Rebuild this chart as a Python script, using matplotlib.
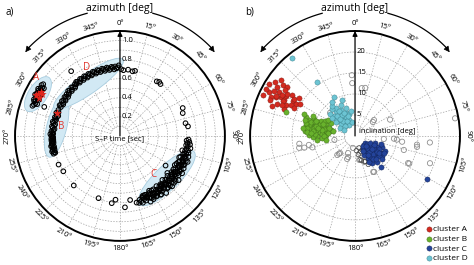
import numpy as np
import matplotlib.pyplot as plt
from matplotlib.patches import Ellipse
from matplotlib import transforms

plt.rcParams['font.family'] = ['Open Sans', 'DejaVu Sans']

# ---------------- panel a: azimuth [deg] vs S-P time [sec] ----------------
a_clusA_az = [304, 303, 302, 301, 300, 299, 298, 297, 296, 295, 294, 293, 292, 291, 290, 289, 298, 300, 296, 294,
              302, 299, 297, 295, 293, 291]
a_clusA_sp = [0.97, 0.98, 0.96, 0.97, 0.95, 0.96, 0.97, 0.95, 0.96, 0.97, 0.95, 0.96, 0.97, 0.95, 0.96, 0.97, 0.93, 0.99, 0.99, 0.93,
              0.94, 0.98, 0.98, 0.94, 0.98, 0.93]

a_clusB_az = [255, 256, 257, 258, 259, 260, 261, 262, 263, 264, 265, 266, 267, 268, 269, 270, 271, 272, 273,
              275, 277, 279, 281, 283, 285, 287, 289, 291, 293,
              255.5, 257.5, 259.5, 261.5, 263.5, 265.5, 267.5, 269.5, 271.5, 274, 276, 278, 280, 282, 284, 286, 288, 290]
a_clusB_sp = [0.72, 0.71, 0.73, 0.70, 0.72, 0.71, 0.70, 0.72, 0.71, 0.70, 0.71, 0.72, 0.70, 0.71, 0.70, 0.72, 0.71, 0.70, 0.71,
              0.70, 0.71, 0.70, 0.71, 0.70, 0.70, 0.69, 0.70, 0.69, 0.70,
              0.70, 0.72, 0.70, 0.73, 0.72, 0.70, 0.72, 0.71, 0.73, 0.72, 0.69, 0.72, 0.69, 0.72, 0.69, 0.71, 0.68, 0.71]

a_clusD_az = [296, 298, 300, 302, 304, 306, 308, 310, 312, 314, 316, 318, 320, 322, 324, 326, 328, 330, 332, 334,
              336, 338, 340, 342, 344, 346, 348, 350, 352, 354, 356, 358, 359, 3, 7, 11, 13,
              297, 299, 301, 303, 305, 307, 309, 311, 313, 315, 317, 319, 321, 323, 325, 327, 329, 331, 333, 335,
              337, 339, 341, 343, 345, 347, 349, 351, 353, 355, 357, 1]
a_clusD_sp = [0.69, 0.70, 0.69, 0.70, 0.69, 0.70, 0.71, 0.70, 0.71, 0.70, 0.71, 0.70, 0.71, 0.72, 0.71, 0.72, 0.71, 0.72, 0.71, 0.72,
              0.71, 0.72, 0.71, 0.72, 0.71, 0.72, 0.71, 0.72, 0.71, 0.72, 0.73, 0.72, 0.74, 0.69, 0.70, 0.69, 0.70,
              0.71, 0.68, 0.71, 0.68, 0.71, 0.68, 0.69, 0.72, 0.69, 0.72, 0.69, 0.72, 0.73, 0.70, 0.73, 0.70, 0.73, 0.70, 0.73, 0.70,
              0.73, 0.70, 0.73, 0.70, 0.73, 0.70, 0.73, 0.70, 0.73, 0.70, 0.71, 0.70]

a_clusC_az = [93, 94, 95, 96, 97, 98, 99, 100, 101, 102, 103, 104, 105, 106, 107, 108, 109, 110, 111, 112,
              113, 114, 115, 116, 117, 118, 119, 120, 121, 122, 123, 124, 125, 126, 127, 128, 129, 130, 131, 132,
              133, 134, 135, 136, 137, 138, 139, 140, 141, 142, 143, 144, 145, 146, 147, 148, 149, 150, 151, 152,
              153, 154, 155, 156, 157, 158, 159, 160, 161, 162, 163, 164, 166,
              110, 114, 118, 122, 126, 130, 134, 138, 142, 146, 150, 154, 158, 103, 107, 128, 136, 144, 152, 140,
              112, 116, 120, 124, 128, 132, 136, 140, 144, 148, 152, 156, 160, 111, 115, 119, 123, 127, 131, 135,
              139, 143, 147, 151, 155, 159, 105, 109, 113, 117, 121, 125, 129, 133, 137, 141, 145, 149, 153, 157]
a_clusC_sp = [0.72, 0.70, 0.73, 0.71, 0.74, 0.70, 0.72, 0.75, 0.71, 0.73, 0.70, 0.74, 0.72, 0.69, 0.75, 0.71, 0.73, 0.70, 0.76, 0.72,
              0.68, 0.74, 0.71, 0.66, 0.75, 0.70, 0.73, 0.67, 0.76, 0.71, 0.69, 0.74, 0.66, 0.72, 0.77, 0.69, 0.73, 0.65, 0.75, 0.70,
              0.67, 0.76, 0.72, 0.64, 0.74, 0.69, 0.71, 0.66, 0.77, 0.70, 0.73, 0.65, 0.75, 0.68, 0.72, 0.66, 0.74, 0.69, 0.71, 0.65,
              0.73, 0.68, 0.76, 0.70, 0.67, 0.73, 0.71, 0.69, 0.74, 0.72, 0.70, 0.73, 0.72,
              0.66, 0.67, 0.65, 0.66, 0.68, 0.70, 0.66, 0.74, 0.67, 0.71, 0.66, 0.72, 0.68, 0.67, 0.72, 0.63, 0.68, 0.70, 0.75, 0.72,
              0.71, 0.69, 0.72, 0.68, 0.71, 0.73, 0.70, 0.68, 0.71, 0.74, 0.69, 0.71, 0.68, 0.74, 0.73, 0.69, 0.72, 0.67, 0.68, 0.74,
              0.67, 0.69, 0.70, 0.73, 0.69, 0.67, 0.70, 0.67, 0.71, 0.69, 0.73, 0.70, 0.75, 0.69, 0.70, 0.68, 0.75, 0.71, 0.67, 0.70]

a_other_az = [34, 36, 38, 66, 70, 79, 82, 245, 238, 223, 199, 187, 184, 176, 171, 291, 323, 123]
a_other_sp = [0.69, 0.70, 0.69, 0.72, 0.70, 0.70, 0.72, 0.71, 0.70, 0.71, 0.69, 0.71, 0.67, 0.75, 0.68, 0.85, 0.85, 0.57]

a_star_az = [297, 295, 299, 296, 298, 290]
a_star_sp = [0.96, 0.94, 0.95, 0.98, 0.93, 0.70]

# cluster outlines: label, centre azimuth, centre S-P time, label azimuth, label S-P time
a_labels = ['A', 'B', 'C', 'D']
a_ell_az = [297, 278, 132, 329]
a_ell_sp = [0.965, 0.67, 0.66, 0.64]
a_lab_az = [305, 279, 139, 334]
a_lab_sp = [1.07, 0.62, 0.54, 0.80]

# ---------------- panel b: azimuth [deg] vs inclination [deg] ----------------
b_A_az = [298, 296, 300, 302, 294, 297, 305, 299, 292, 301, 303, 295, 298, 306, 293, 300, 297, 290, 304, 296,
          302, 299, 294, 291, 300, 307, 298, 296, 303, 295, 301, 304, 297, 293, 299]
b_A_inc = [20, 21, 19, 22, 18, 23, 21, 17, 20, 24, 18, 22, 16, 20, 22, 21, 19, 21, 23, 17,
           19, 22, 24, 18, 15, 22, 24, 19, 20, 16, 17, 16, 21, 19, 20]

b_B_az = [283, 280, 286, 275, 290, 284, 278, 288, 270, 282, 292, 276, 286, 279, 294, 272, 281, 289, 285, 277,
          291, 268, 287, 274, 283, 280, 296, 284, 271, 288, 278, 293, 266, 282, 285, 276, 290, 273, 287, 281,
          298, 264, 279, 295, 283, 269, 286, 275, 289, 277, 262, 300, 284, 280, 291, 274, 288, 282, 289, 293]
b_B_inc = [8.5, 9, 8, 10, 9.5, 11, 7, 6.5, 9, 12, 7.5, 12, 10, 10.5, 9, 7, 6, 11.5, 7, 8.5,
           12.5, 10, 9, 8, 10, 11.5, 8, 6, 11, 8, 9.5, 10.5, 8, 7.5, 12, 6.5, 8, 9.5, 11, 10,
           6.5, 9, 12.5, 11, 5.5, 7.5, 6.5, 11.5, 10, 10, 7, 7.5, 9.5, 8, 10, 10.5, 12.5, 9, 17.5, 13.3]

b_C_az = [133, 128, 138, 120, 145, 125, 140, 130, 115, 150, 135, 122, 142, 127, 110, 148, 132, 118, 137, 124,
          155, 130, 112, 144, 126, 140, 119, 134, 146, 108, 129, 136, 116, 152, 123, 139, 131, 121, 143, 114,
          147, 127, 135, 117, 141, 125, 153, 132, 120, 138, 128, 140, 121]
b_C_inc = [5, 6, 4.5, 5.5, 5, 4, 6.5, 7, 6, 6, 3, 7.5, 4, 8, 5, 7.5, 6, 4, 7, 5.5,
           5, 4.5, 7, 6, 3, 8, 6.5, 5.5, 3.5, 6.5, 7.5, 6, 8, 7, 3.5, 5, 8.5, 4.5, 7, 4,
           5.5, 6.5, 4, 5, 3, 7, 4, 3.5, 8, 7.5, 5, 9.6, 20]

b_D_az = [324, 320, 328, 316, 330, 322, 335, 318, 326, 312, 340, 332, 310, 325, 338, 320, 345, 314, 328, 306,
          333, 322, 342, 318, 336, 300, 327, 315, 348, 330, 311, 323, 341, 296, 319, 334, 350, 308,
          321, 325, 326, 340, 332]
b_D_inc = [5.3, 6, 4.5, 5, 6.5, 7.5, 5, 4, 8, 6, 4, 7, 4.5, 3.5, 6, 8.5, 5.5, 7, 6, 5.5,
           3, 4.5, 7, 6.5, 8, 4, 7, 3.5, 3.5, 4, 8, 9, 5, 3, 5.5, 6, 6, 7,
           23.9, 15.7, 9.8, 9.1, 10.5]

b_none_az = [258, 257, 259, 268, 268, 259, 222, 199, 170, 161, 152, 96, 94, 106, 117, 98, 95, 357, 8, 12,
             50, 80, 52, 65, 95, 262, 198, 267, 190, 164, 202, 221, 117, 100, 97, 153, 313, 357, 223, 255, 110]
b_none_inc = [13.6, 12.4, 11.2, 9, 7.1, 5, 5.7, 5.8, 5.8, 6.5, 9.7, 6.9, 9.3, 12.1, 14.5, 14.9, 17.9, 14.5, 11.5, 11.7,
              5.9, 24.2, 5.4, 9.2, 10, 13.4, 5.3, 8.3, 2.9, 4.2, 4.4, 5.4, 14.2, 15, 11.3, 9.6, 8.1, 12.6, 6.2, 10.5, 19]

b_dark_az = [153, 168, 159, 150, 160, 165, 170, 175, 158, 145, 162, 155]
b_dark_inc = [3.7, 5.8, 6.6, 5, 4, 6, 4.5, 3.5, 6.5, 7.5, 3, 7.5]

legend_labels = ['cluster A', 'cluster B', 'cluster C', 'cluster D']
cluster_colors = ['#d42a20', '#68b22c', '#24449b', '#6cc4d3']
cluster_edges = ['#7a1a12', '#3c6a18', '#101f50', '#3a7f8a']

GRID = '#a0a0a0'
SHADE = '#d2e9f4'


def setup_polar(ax, rmax, grid_rs, rticks, rfmt):
    ax.set_theta_zero_location('N')
    ax.set_theta_direction(-1)
    ax.set_ylim(0, rmax)
    ax.set_xticks([])
    ax.set_yticks([])
    ax.grid(False)
    ax.spines['polar'].set_linewidth(1.4)
    th = np.linspace(0, 2 * np.pi, 361)
    for r in grid_rs:
        ax.plot(th, np.full_like(th, r), ls=(0, (2, 2)), lw=0.5, color=GRID, zorder=0)
    for d in range(0, 360, 15):
        if d == 0:
            continue
        ax.plot([np.radians(d)] * 2, [grid_rs[0], rmax], ls=(0, (2, 2)), lw=0.5, color=GRID, zorder=0)
    # azimuth labels
    for d in range(0, 360, 15):
        rot = -d if (d <= 90 or d >= 270) else 180 - d
        ax.text(np.radians(d), rmax * 1.075, f'{d}°', rotation=rot, ha='center', va='center',
                fontsize=5.5, clip_on=False)
    # radial axis arrow
    ax.annotate('', xy=(0, rmax), xytext=(0, 0), annotation_clip=False,
                arrowprops=dict(arrowstyle='-|>', color='k', lw=0.9, mutation_scale=7,
                                shrinkA=0, shrinkB=0), zorder=5)
    off = transforms.offset_copy(ax.transData, fig=ax.figure, x=2, y=0, units='dots')
    for t in rticks:
        ax.text(0, t, rfmt(t), transform=off, ha='left', va='center', fontsize=5.5, zorder=6)
    # azimuth arc arrow
    ra = rmax * 1.21
    for a0, a1 in [(15, 46), (-15, -46)]:
        th = np.radians(np.linspace(a0, a1, 60))
        ax.plot(th, np.full_like(th, ra), color='k', lw=0.9, clip_on=False)
        ax.annotate('', xy=(np.radians(a1 + np.sign(a1) * 2.5), ra * 0.995),
                    xytext=(np.radians(a1 - np.sign(a1) * 0.5), ra), annotation_clip=False,
                    arrowprops=dict(arrowstyle='-|>', color='k', lw=0.5, mutation_scale=9,
                                    shrinkA=0, shrinkB=0))
    ax.text(0, ra, 'azimuth [deg]', ha='center', va='center', fontsize=7.5, clip_on=False)


def add_ellipse(ax, az, r, length, width, angle):
    disp = ax.transData.transform((np.radians(az), r))
    cx, cy = ax.transAxes.inverted().transform(disp)
    e = Ellipse((cx, cy), length, width, angle=angle, transform=ax.transAxes,
                facecolor=SHADE, edgecolor='#a8cde0', lw=0.6, zorder=1)
    ax.add_patch(e)


fig = plt.figure(figsize=(4.74, 2.65), dpi=100)
axa = fig.add_axes([0.0316, 0.091, 0.443, 0.792], projection='polar')
axb = fig.add_axes([0.5275, 0.091, 0.443, 0.792], projection='polar')

# ---- panel a ----
setup_polar(axa, 1.1, np.arange(0.1, 1.05, 0.1), [0.2, 0.4, 0.6, 0.8, 1.0], lambda t: f'{t:.1f}')
fig.canvas.draw()

ell_len = [40 / 210, 62 / 210, 76 / 210, 84 / 210]
ell_wid = [19 / 210, 20 / 210, 24 / 210, 20 / 210]
ell_ang = [57, 76, 44, 35]
for i in range(4):
    add_ellipse(axa, a_ell_az[i], a_ell_sp[i], ell_len[i], ell_wid[i], ell_ang[i])
    axa.text(np.radians(a_lab_az[i]), a_lab_sp[i], a_labels[i], color='#e0332a', fontsize=7,
             ha='center', va='center', zorder=6)

for az, sp in [(a_clusA_az, a_clusA_sp), (a_clusB_az, a_clusB_sp), (a_clusD_az, a_clusD_sp),
               (a_clusC_az, a_clusC_sp), (a_other_az, a_other_sp)]:
    axa.scatter(np.radians(az), sp, s=11, facecolors='none', edgecolors='k', linewidths=0.75, zorder=3)
axa.scatter(np.radians(a_star_az), a_star_sp, marker='*', s=40, color='#e0261d', linewidths=0, zorder=4)
axa.text(0.5, 0.485, 'S–P time [sec]', transform=axa.transAxes, ha='center', va='center', fontsize=5.5,
         zorder=6)

# ---- panel b ----
setup_polar(axb, 25, [2.5, 5, 10, 15, 20], [5, 10, 15, 20], lambda t: f'{t:d}')
axb.scatter(np.radians(b_none_az), b_none_inc, s=14, facecolors='none', edgecolors='#8f8f8f',
            linewidths=0.6, zorder=2)
axb.scatter(np.radians(b_dark_az), b_dark_inc, s=10, facecolors='none', edgecolors='#444444',
            linewidths=0.5, zorder=2)
handles = []
for az, inc, c, ec, lab in [(b_A_az, b_A_inc, cluster_colors[0], cluster_edges[0], legend_labels[0]),
                            (b_B_az, b_B_inc, cluster_colors[1], cluster_edges[1], legend_labels[1]),
                            (b_C_az, b_C_inc, cluster_colors[2], cluster_edges[2], legend_labels[2]),
                            (b_D_az, b_D_inc, cluster_colors[3], cluster_edges[3], legend_labels[3])]:
    h = axb.scatter(np.radians(az), inc, s=14, color=c, edgecolors=ec, linewidths=0.3, zorder=3, label=lab)
    handles.append(h)
axb.text(0.517, 0.522, 'inclination [deg]', transform=axb.transAxes, ha='left', va='center',
         fontsize=5.5, zorder=6)

fig.legend(handles=handles, loc='lower right', bbox_to_anchor=(1.0, -0.012), frameon=False,
           fontsize=6, handletextpad=0.05, labelspacing=0.22, handlelength=1.0, borderaxespad=0.3)

fig.text(0.012, 0.955, 'a)', fontsize=7, va='center')
fig.text(0.517, 0.955, 'b)', fontsize=7, va='center')

fig.savefig('out.png', dpi=100)
